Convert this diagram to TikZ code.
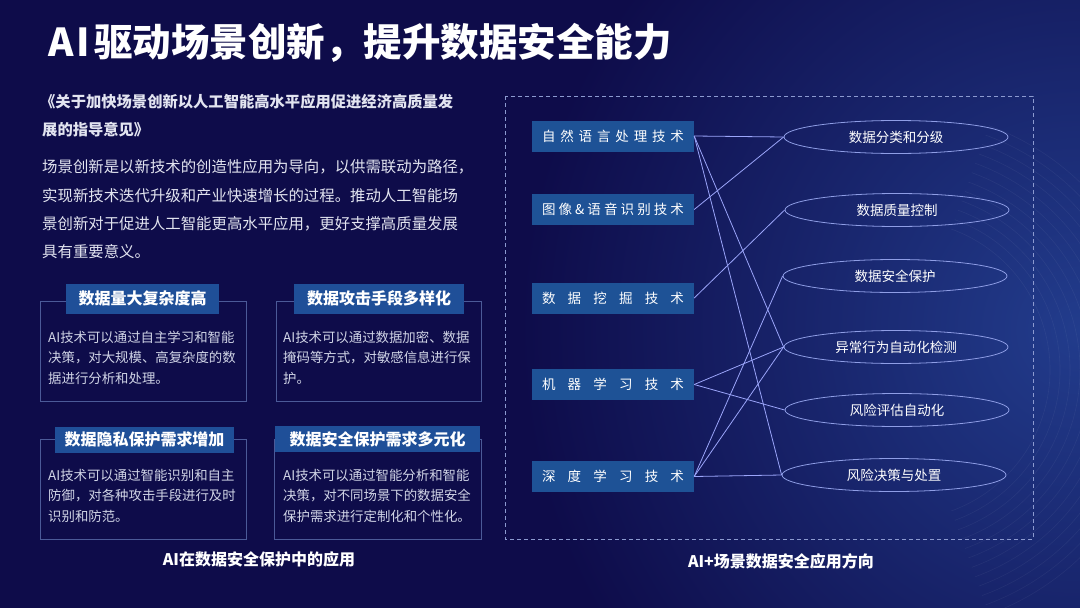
\documentclass[tikz,border=0pt]{standalone}
\usepackage{fontspec}
\setmainfont{Noto Sans CJK SC}
\usetikzlibrary{shapes.geometric}
\definecolor{bgnavy}{RGB}{14,12,74}
\definecolor{bgglow}{RGB}{34,60,140}
\definecolor{txtgray}{RGB}{226,228,240}
\definecolor{bodygray}{RGB}{208,212,230}
\definecolor{tabblue}{RGB}{31,79,152}
\definecolor{techblue}{RGB}{30,82,150}
\definecolor{boxline}{RGB}{75,90,152}
\definecolor{dashline}{RGB}{140,154,208}
\definecolor{ellline}{RGB}{143,158,230}
\definecolor{connline}{RGB}{155,165,250}
\newcommand{\spreadtxt}[1]{\makebox[142pt][s]{#1}}
\begin{document}
\begin{tikzpicture}[x=1pt,y=-1pt,
  titlestyle/.style={anchor=west,inner sep=0pt,text=white,font=\fontsize{38.5}{44}\selectfont\bfseries},
  headtxt/.style={anchor=west,inner sep=0pt,text=txtgray,font=\fontsize{15.3}{20}\selectfont\bfseries},
  paratxt/.style={anchor=west,inner sep=0pt,text=txtgray,font=\fontsize{15.4}{20}\selectfont},
  bodytxt/.style={anchor=west,inner sep=0pt,text=bodygray,font=\fontsize{13.4}{18}\selectfont},
  infobox/.style={draw=boxline,line width=0.8pt,inner sep=0pt},
  tabnode/.style={fill=tabblue,inner sep=0pt,text=white,font=\fontsize{16}{20}\selectfont\bfseries},
  techbox/.style={fill=techblue,minimum width=162pt,minimum height=31pt,inner sep=0pt,text=white,font=\fontsize{13.5}{16}\selectfont},
  ellnode/.style={ellipse,draw=ellline,line width=0.8pt,minimum width=224pt,minimum height=33pt,inner sep=0pt,text=white,font=\fontsize{13.5}{16}\selectfont},
  conn/.style={draw=connline,line width=0.8pt},
  captxt/.style={inner sep=0pt,text=white,font=\fontsize{16}{20}\selectfont\bfseries}
]
% background
\fill[bgnavy] (0,0) rectangle (1080,608);
\useasboundingbox (0,0) rectangle (1080,608);
\begin{scope}
\clip (0,0) rectangle (1080,608);
\shade[inner color=bgglow,outer color=bgnavy] (1080,330) circle (560);
\foreach \r in {150,160,...,260}{
  \draw[white,opacity=0.05,line width=0.6pt] (900,370) ++(-70:\r) arc (-70:70:\r);
}
\end{scope}

% title
\node[titlestyle] (title) at (48,43) {A\kern3pt I\kern4pt 驱动场景创新，提升数据安全能力};

% intro text
\node[headtxt] (h1) at (40,102) {《关于加快场景创新以人工智能高水平应用促进经济高质量发};
\node[headtxt] (h2) at (42,130) {展的指导意见》};
\node[paratxt] (p1) at (42,167) {场景创新是以新技术的创造性应用为导向，以供需联动为路径，};
\node[paratxt] (p2) at (42,195.5) {实现新技术迭代升级和产业快速增长的过程。推动人工智能场};
\node[paratxt] (p3) at (42,224) {景创新对于促进人工智能更高水平应用，更好支撑高质量发展};
\node[paratxt] (p4) at (42,252) {具有重要意义。};

% info boxes
\node[infobox,minimum width=206pt,minimum height=100pt] (b1) at (143,351) {};
\node[infobox,minimum width=205pt,minimum height=100pt] (b2) at (378.5,351) {};
\node[infobox,minimum width=206pt,minimum height=100pt] (b3) at (143,489) {};
\node[infobox,minimum width=207pt,minimum height=100pt] (b4) at (377.5,489) {};

\node[tabnode,minimum width=153pt,minimum height=30pt] (tab1) at (142.5,299) {\raisebox{3pt}{数据量大复杂度高}};
\node[tabnode,minimum width=170pt,minimum height=30pt] (tab2) at (379,299) {\raisebox{3pt}{数据攻击手段多样化}};
\node[tabnode,minimum width=179pt,minimum height=26pt] (tab3) at (144.5,440) {\raisebox{2pt}{数据隐私保护需求增加}};
\node[tabnode,minimum width=205pt,minimum height=26pt] (tab4) at (377.5,439) {\raisebox{1pt}{数据安全保护需求多元化}};

\node[bodytxt] (b1l1) at (48,337) {AI技术可以通过自主学习和智能};
\node[bodytxt] (b1l2) at (48,357.5) {决策，对大规模、高复杂度的数};
\node[bodytxt] (b1l3) at (48,378) {据进行分析和处理。};

\node[bodytxt] (b2l1) at (283,337) {AI技术可以通过数据加密、数据};
\node[bodytxt] (b2l2) at (283,357.5) {掩码等方式，对敏感信息进行保};
\node[bodytxt] (b2l3) at (283,378) {护。};

\node[bodytxt] (b3l1) at (48,475) {AI技术可以通过智能识别和自主};
\node[bodytxt] (b3l2) at (48,495.5) {防御，对各种攻击手段进行及时};
\node[bodytxt] (b3l3) at (48,516) {识别和防范。};

\node[bodytxt] (b4l1) at (283,475) {AI技术可以通过智能分析和智能};
\node[bodytxt] (b4l2) at (283,495.5) {决策，对不同场景下的数据安全};
\node[bodytxt] (b4l3) at (283,516) {保护需求进行定制化和个性化。};

\node[captxt] (capL) at (259,559) {AI在数据安全保护中的应用};

% right panel
\draw[dashline,line width=0.8pt,dash pattern=on 4pt off 3pt] (505,96) rectangle (1033,539);

\node[techbox] (t1) at (613,136) {\spreadtxt{自\hfill 然\hfill 语\hfill 言\hfill 处\hfill 理\hfill 技\hfill 术}};
\node[techbox] (t2) at (613,209.5) {\spreadtxt{图\hfill 像\hfill \&\hfill 语\hfill 音\hfill 识\hfill 别\hfill 技\hfill 术}};
\node[techbox] (t3) at (613,298) {\spreadtxt{数\hfill 据\hfill 挖\hfill 掘\hfill 技\hfill 术}};
\node[techbox] (t4) at (613,384.5) {\spreadtxt{机\hfill 器\hfill 学\hfill 习\hfill 技\hfill 术}};
\node[techbox] (t5) at (613,476.5) {\spreadtxt{深\hfill 度\hfill 学\hfill 习\hfill 技\hfill 术}};

\node[ellnode] (e1) at (896,137) {数据分类和分级};
\node[ellnode] (e2) at (897,210) {数据质量控制};
\node[ellnode] (e3) at (895,276) {数据安全保护};
\node[ellnode] (e4) at (896,347) {异常行为自动化检测};
\node[ellnode] (e5) at (897,410) {风险评估自动化};
\node[ellnode] (e6) at (894,475) {风险决策与处置};

\draw[conn] (t1.east) -- (e1.west);
\draw[conn] (t1.east) -- (e4.west);
\draw[conn] (t1.east) -- (e6.west);
\draw[conn] (t2.east) -- (e1.west);
\draw[conn] (t3.east) -- (e2.west);
\draw[conn] (t4.east) -- (e4.west);
\draw[conn] (t4.east) -- (e5.west);
\draw[conn] (t5.east) -- (e3.west);
\draw[conn] (t5.east) -- (e4.west);
\draw[conn] (t5.east) -- (e6.west);

\node[captxt] (capR) at (781,561) {AI+场景数据安全应用方向};
\end{tikzpicture}
\end{document}
